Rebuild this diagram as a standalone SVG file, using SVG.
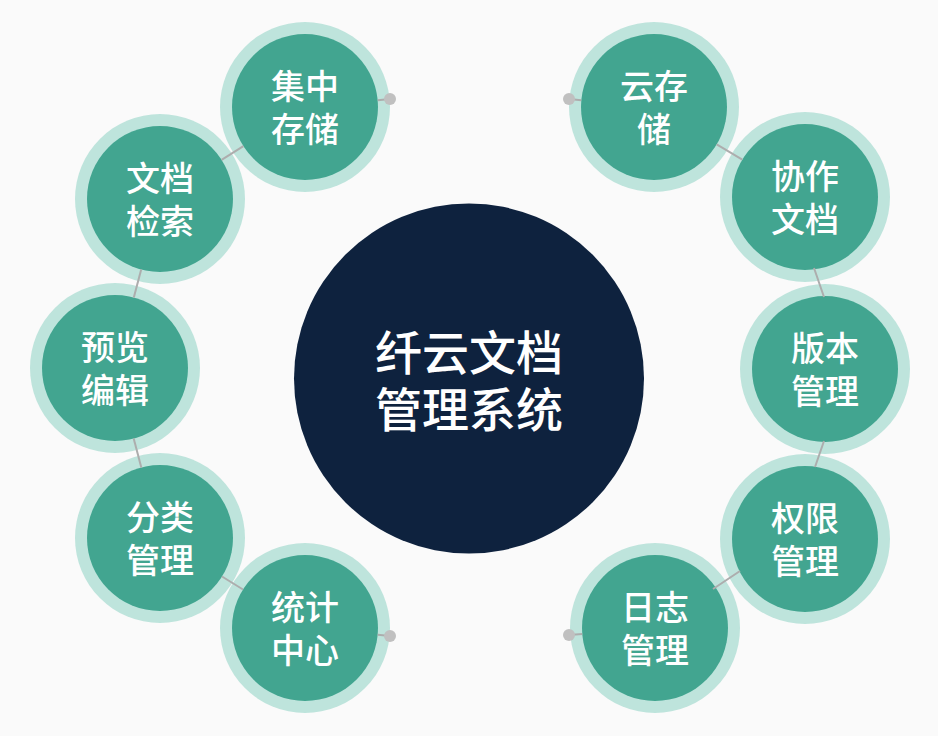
<svg xmlns="http://www.w3.org/2000/svg" width="938" height="736" viewBox="0 0 938 736">
<style>
.ring{fill:#bee4dc}
.core{fill:#42a590}
.lbl{fill:#ffffff;font-family:"Liberation Sans","Noto Sans CJK SC",sans-serif;font-size:34px;font-weight:500;text-anchor:middle;dominant-baseline:central}
.hub{fill:#0e223e}
.hubt{fill:#ffffff;font-family:"Liberation Sans","Noto Sans CJK SC",sans-serif;font-size:47px;font-weight:500;text-anchor:middle;dominant-baseline:central}
.ln{stroke:#adadad;stroke-width:2;fill:none}
.dot{fill:#c0c0c0}
</style>
<rect x="0" y="0" width="938" height="736" fill="#fafafa"/>
<g id="center">
<circle class="hub" cx="469" cy="378.5" r="175"/>
<text class="hubt"><tspan x="469" y="353">纤云文档</tspan><tspan x="469" y="410">管理系统</tspan></text>
</g>
<g id="n-jizhong">
<circle class="ring" cx="305" cy="107" r="85"/><circle class="core" cx="305" cy="107" r="73"/>
<text class="lbl"><tspan x="305" y="87">集中</tspan><tspan x="305" y="130">存储</tspan></text>
</g>
<g id="n-jiansuo">
<circle class="ring" cx="160" cy="199" r="85"/><circle class="core" cx="160" cy="199" r="73"/>
<text class="lbl"><tspan x="160" y="179">文档</tspan><tspan x="160" y="222">检索</tspan></text>
</g>
<g id="n-yulan">
<circle class="ring" cx="115" cy="368" r="85"/><circle class="core" cx="115" cy="368" r="73"/>
<text class="lbl"><tspan x="115" y="348">预览</tspan><tspan x="115" y="391">编辑</tspan></text>
</g>
<g id="n-fenlei">
<circle class="ring" cx="160" cy="538" r="85"/><circle class="core" cx="160" cy="538" r="73"/>
<text class="lbl"><tspan x="160" y="518">分类</tspan><tspan x="160" y="561">管理</tspan></text>
</g>
<g id="n-tongji">
<circle class="ring" cx="305" cy="628" r="85"/><circle class="core" cx="305" cy="628" r="73"/>
<text class="lbl"><tspan x="305" y="608">统计</tspan><tspan x="305" y="651">中心</tspan></text>
</g>
<g id="n-yuncun">
<circle class="ring" cx="654" cy="107" r="85"/><circle class="core" cx="654" cy="107" r="73"/>
<text class="lbl"><tspan x="654" y="87">云存</tspan><tspan x="654" y="130">储</tspan></text>
</g>
<g id="n-xiezuo">
<circle class="ring" cx="805" cy="197" r="85"/><circle class="core" cx="805" cy="197" r="73"/>
<text class="lbl"><tspan x="805" y="177">协作</tspan><tspan x="805" y="220">文档</tspan></text>
</g>
<g id="n-banben">
<circle class="ring" cx="825" cy="369" r="85"/><circle class="core" cx="825" cy="369" r="73"/>
<text class="lbl"><tspan x="825" y="349">版本</tspan><tspan x="825" y="392">管理</tspan></text>
</g>
<g id="n-quanxian">
<circle class="ring" cx="805" cy="539" r="85"/><circle class="core" cx="805" cy="539" r="73"/>
<text class="lbl"><tspan x="805" y="519">权限</tspan><tspan x="805" y="562">管理</tspan></text>
</g>
<g id="n-rizhi">
<circle class="ring" cx="655" cy="628" r="85"/><circle class="core" cx="655" cy="628" r="73"/>
<text class="lbl"><tspan x="655" y="608">日志</tspan><tspan x="655" y="651">管理</tspan></text>
</g>
<g id="connectors">
<line class="ln" x1="243.4" y1="146.1" x2="221.6" y2="159.9"/>
<line class="ln" x1="141.2" y1="269.5" x2="133.8" y2="297.5"/>
<line class="ln" x1="133.7" y1="438.6" x2="141.3" y2="467.4"/>
<line class="ln" x1="222" y1="576.5" x2="243" y2="589.5"/>
<line class="ln" x1="377.7" y1="100.2" x2="390" y2="99"/>
<line class="ln" x1="377.7" y1="634.8" x2="390" y2="636"/>
<line class="ln" x1="716.7" y1="144.4" x2="742.3" y2="159.6"/>
<line class="ln" x1="814" y1="268" x2="824" y2="297"/>
<line class="ln" x1="824" y1="441" x2="815" y2="467"/>
<line class="ln" x1="740" y1="571" x2="713" y2="589"/>
<line class="ln" x1="581.3" y1="100.2" x2="569" y2="99"/>
<line class="ln" x1="582.2" y1="633.9" x2="569" y2="635"/>
<circle class="dot" cx="390" cy="99" r="6"/>
<circle class="dot" cx="390" cy="636" r="6"/>
<circle class="dot" cx="569" cy="99" r="6"/>
<circle class="dot" cx="569" cy="635" r="6"/>
</g>
</svg>
